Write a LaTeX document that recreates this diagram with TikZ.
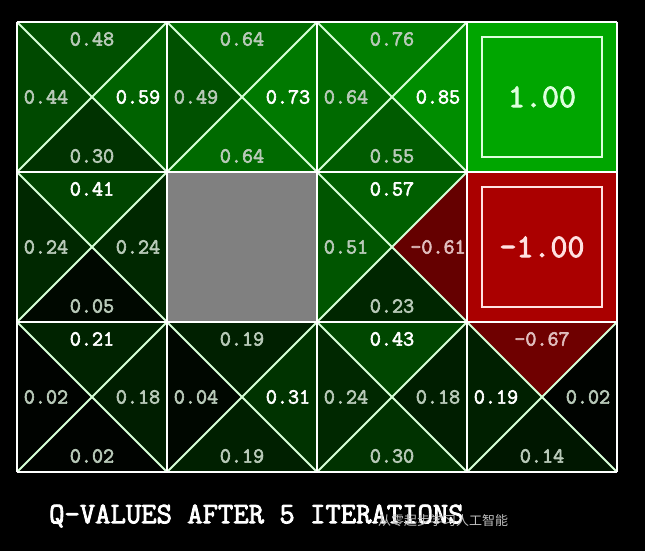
\documentclass[tikz,border=0pt]{standalone}
\usepackage{fontspec}
\newfontfamily\cjkfont{Noto Sans CJK SC}
\newfontfamily\cfontfam[FakeBold=2.8]{Latin Modern Mono}
\newcommand{\cfont}{\cfontfam}
\definecolor{qgreen}{RGB}{0,255,0}
\definecolor{qred}{RGB}{255,0,0}
\definecolor{qtext}{RGB}{185,202,185}
\definecolor{qtextr}{RGB}{225,190,190}
\definecolor{diagc}{RGB}{215,255,215}
\definecolor{wallc}{RGB}{128,128,128}
\definecolor{termg}{RGB}{0,166,0}
\definecolor{termr}{RGB}{170,0,0}
\definecolor{termgl}{RGB}{220,255,220}
\definecolor{termrl}{RGB}{255,225,225}
\definecolor{wmark}{RGB}{190,190,190}

\newcommand{\qcol}[2]{%
  \pgfmathsetmacro{\qpct}{min(100,abs(#2)*65)}%
  \ifdim#2pt<0pt \colorlet{#1}{qred!\qpct!black}\else\colorlet{#1}{qgreen!\qpct!black}\fi}

\newcommand{\qlab}[5]{%
  \ifnum#5=1 \def\qtc{white}\else\ifdim#4pt<0pt \def\qtc{qtextr}\else\def\qtc{qtext}\fi\fi
  \node[qlabel,text=\qtc] (#1) at (#2,#3) {#4};}

\newcommand{\qcell}[7]{%
  \pgfmathsetmacro{\xa}{17+150*#1}\pgfmathsetmacro{\ya}{22+150*#2}%
  \pgfmathsetmacro{\xb}{\xa+150}\pgfmathsetmacro{\yb}{\ya+150}%
  \pgfmathsetmacro{\xm}{\xa+75}\pgfmathsetmacro{\ym}{\ya+75}%
  \qcol{cN}{#3}\qcol{cE}{#4}\qcol{cS}{#5}\qcol{cW}{#6}%
  \fill[cN] (\xa,\ya) -- (\xb,\ya) -- (\xm,\ym) -- cycle;
  \fill[cE] (\xb,\ya) -- (\xb,\yb) -- (\xm,\ym) -- cycle;
  \fill[cS] (\xa,\yb) -- (\xb,\yb) -- (\xm,\ym) -- cycle;
  \fill[cW] (\xa,\ya) -- (\xa,\yb) -- (\xm,\ym) -- cycle;
  \draw[diagline] (\xa,\ya) -- (\xb,\yb) (\xb,\ya) -- (\xa,\yb);
  \def\mN{0}\def\mE{0}\def\mS{0}\def\mW{0}%
  \ifcase#7\or\def\mN{1}\or\def\mE{1}\or\def\mS{1}\or\def\mW{1}\fi
  \qlab{c#1#2n}{\xm}{\ya+17}{#3}{\mN}
  \qlab{c#1#2e}{\xb-29}{\ym}{#4}{\mE}
  \qlab{c#1#2s}{\xm}{\yb-16}{#5}{\mS}
  \qlab{c#1#2w}{\xa+29}{\ym}{#6}{\mW}}

\newcommand{\qterm}[6]{%
  \pgfmathsetmacro{\xa}{17+150*#1}\pgfmathsetmacro{\ya}{22+150*#2}%
  \fill[#3] (\xa,\ya) rectangle ++(150,150);
  \draw[#4,line width=1.5] (\xa+15,\ya+15) rectangle ++(120,120);
  \node[termlabel,text=#4] (#6) at (\xa+75,\ya+75) {#5};}

\begin{document}
\begin{tikzpicture}[x=1pt,y=-1pt,
  qlabel/.style={font=\fontsize{21.5}{21.5}\cfont,inner sep=0pt},
  termlabel/.style={font=\fontsize{33}{33}\cfont,inner sep=0pt},
  diagline/.style={draw=diagc,line width=1.8},
  gridline/.style={draw=white,line width=2.6},
  titlefont/.style={font=\fontsize{29.8}{29.8}\cfont,text=white,inner sep=0pt}]
\fill[black] (0,0) rectangle (645,551);
\useasboundingbox (0,0) rectangle (645,551);
% row 0
\qcell{0}{0}{0.48}{0.59}{0.30}{0.44}{2}
\qcell{1}{0}{0.64}{0.73}{0.64}{0.49}{2}
\qcell{2}{0}{0.76}{0.85}{0.55}{0.64}{2}
\qterm{3}{0}{termg}{termgl}{1.00}{goal}
% row 1
\qcell{0}{1}{0.41}{0.24}{0.05}{0.24}{1}
\fill[wallc] (167,172) rectangle (317,322);
\qcell{2}{1}{0.57}{-0.61}{0.23}{0.51}{1}
\qterm{3}{1}{termr}{termrl}{-1.00}{pit}
% row 2
\qcell{0}{2}{0.21}{0.18}{0.02}{0.02}{1}
\qcell{1}{2}{0.19}{0.31}{0.19}{0.04}{2}
\qcell{2}{2}{0.43}{0.18}{0.30}{0.24}{1}
\qcell{3}{2}{-0.67}{0.02}{0.14}{0.19}{4}
% grid
\foreach \gx in {17,167,317,467,617} \draw[gridline] (\gx,22) -- (\gx,472);
\foreach \gy in {22,172,322,472} \draw[gridline] (17,\gy) -- (617,\gy);
% title
\node[titlefont,anchor=west] (title) at (49,516) {Q-VALUES AFTER 5 ITERATIONS};
\node[font=\fontsize{13}{13}\selectfont\cjkfont,text=wmark,anchor=west,inner sep=0pt] (wm) at (378,521) {从零起步学习人工智能};
\end{tikzpicture}
\end{document}
